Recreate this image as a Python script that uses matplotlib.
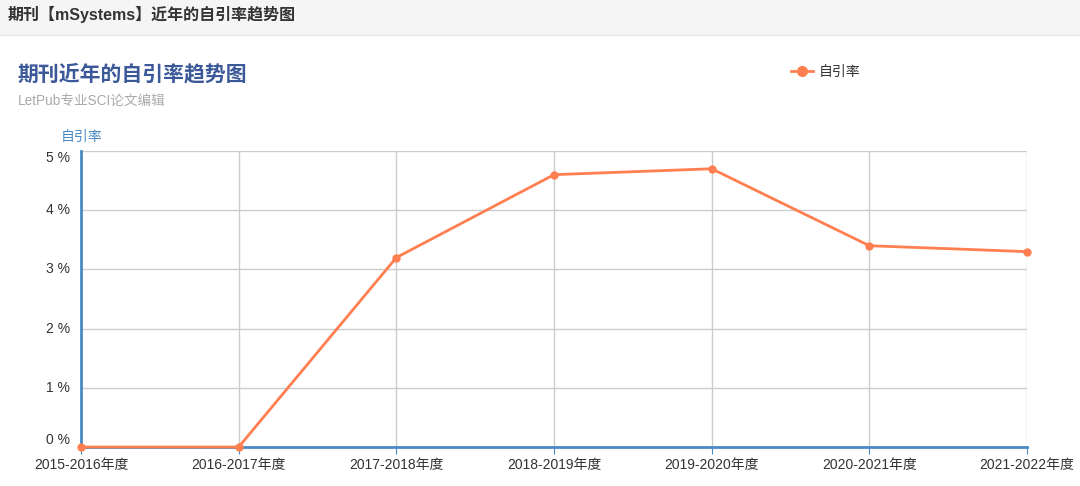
import matplotlib.pyplot as plt
from matplotlib.patches import Rectangle
from matplotlib.lines import Line2D

plt.rcParams['font.family'] = ['Liberation Sans', 'Noto Sans CJK SC']

# data
years = ['2015-2016年度', '2016-2017年度', '2017-2018年度', '2018-2019年度',
         '2019-2020年度', '2020-2021年度', '2021-2022年度']
self_cite = [0.0, 0.0, 3.2, 4.6, 4.7, 3.4, 3.3]
yticks = [0, 1, 2, 3, 4, 5]

line_color = '#ff7f50'
axis_blue = '#4a8ac4'

fig = plt.figure(figsize=(10.8, 4.86), dpi=100)

# header bar
fig.patches.append(Rectangle((0, 1 - 35 / 486), 1, 35 / 486, transform=fig.transFigure,
                             facecolor='#f5f5f5', edgecolor='none', zorder=0))
fig.add_artist(Line2D([0, 1], [1 - 35 / 486] * 2, color='#e6e6e6', lw=1))
fig.text(8 / 1080, 1 - 14 / 486, '期刊【mSystems】近年的自引率趋势图', fontsize=11.5,
         fontweight='bold', color='#333333', va='center', ha='left')

# title / subtitle
fig.text(18 / 1080, 1 - 74 / 486, '期刊近年的自引率趋势图', fontsize=15, fontweight='bold',
         color='#3b5998', va='center', ha='left')
fig.text(18 / 1080, 1 - 101 / 486, 'LetPub专业SCI论文编辑', fontsize=9.8, color='#aaaaaa',
         va='center', ha='left')

ax = fig.add_axes([81 / 1080, 1 - 447 / 486, (1027 - 81) / 1080, (447 - 151) / 486])
x = list(range(len(years)))
ax.plot(x, self_cite, color=line_color, lw=2, marker='o', ms=5, label='自引率',
        clip_on=False, zorder=5)

ax.set_xlim(0, len(years) - 1)
ax.set_ylim(0, 5)
ax.set_xticks(x)
ax.set_xticklabels(years, fontsize=10, color='#333333')
ax.set_yticks(yticks)
ax.set_yticklabels([f'{v} %' for v in yticks], fontsize=10, color='#333333')
for t, v in zip(ax.get_yticklabels(), yticks):
    t.set_va('top' if v == 5 else ('bottom' if v == 0 else 'center'))
ax.grid(True, color='#cccccc', lw=1)
ax.set_axisbelow(True)

for s in ['top', 'right']:
    ax.spines[s].set_visible(False)
for s in ['left', 'bottom']:
    ax.spines[s].set_color(axis_blue)
    ax.spines[s].set_linewidth(2)
ax.tick_params(axis='y', length=0, pad=8)
ax.tick_params(axis='x', length=5, color=axis_blue, pad=3)

ax.text(-0.13, 5.12, '自引率', transform=ax.transData, fontsize=10, color=axis_blue,
        ha='left', va='bottom')

ax.legend(loc='center left', bbox_to_anchor=(778 / 1080, 1 - 72 / 486),
          bbox_transform=fig.transFigure, frameon=False, fontsize=10,
          handlelength=1.6, handletextpad=0.4, labelcolor='#333333', markerscale=1.4)

fig.savefig('out.png', dpi=100)
